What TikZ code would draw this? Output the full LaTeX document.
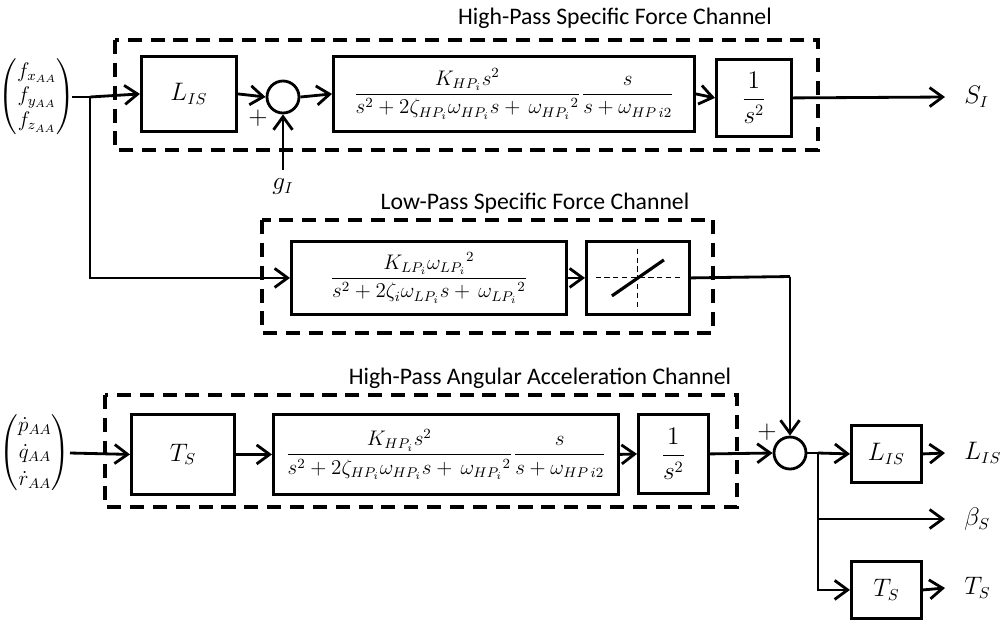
\documentclass[tikz,border=0pt]{standalone}
\usepackage{amsmath}
\usepackage{fontspec}
\setmainfont{Carlito}
\usetikzlibrary{arrows.meta,positioning}

\begin{document}
\fontsize{13.5}{16}\selectfont
\begin{tikzpicture}[
    x=0.2mm, y=-0.2mm,
    >={Straight Barb[length=2.6mm,width=3.8mm]},
    line width=1.6pt,
    block/.style={draw, line width=1.6pt, inner sep=0pt, anchor=north west},
    tfblock/.style={block, font=\fontsize{11.5}{14}\selectfont},
    sumnode/.style={draw, circle, line width=1.6pt, minimum size=6.4mm, inner sep=0pt},
    chbox/.style={draw, line width=1.8pt, dash pattern=on 8pt off 5pt},
    lbl/.style={inner sep=0pt, font=\fontsize{12}{14}\selectfont}
]
\useasboundingbox (0,0) rectangle (1000,628);

% --- 1. 虛線框與標題 ---
\draw[chbox] (115,40) rectangle (818,150);
\node at (615,18) {High-Pass Specific Force Channel};
\draw[chbox] (262,220) rectangle (713,333);
\node at (535,203) {Low-Pass Specific Force Channel};
\draw[chbox] (105,395) rectangle (737,507);
\node at (540,378) {High-Pass Angular Acceleration Channel};

% --- 2. 上方通道 ---
\node[lbl] (fin) at (37,97) {$\begin{pmatrix} f_{x_{AA}}\\ f_{y_{AA}}\\ f_{z_{AA}} \end{pmatrix}$};
\coordinate (fstart) at (72,97);
\coordinate (split) at (90,97);
\node[block, minimum width=95*0.2mm, minimum height=75*0.2mm] (lis1) at (140,55) {$L_{IS}$};
\node[sumnode] (sum1) at (283,97) {};
\node (gI) at (283,187) {$g_I$};
\coordinate (gIup) at (283,170);
\node at (258,118) {$+$};
\node[tfblock, minimum width=361*0.2mm, minimum height=75*0.2mm] (hp1) at (332,55)
    {$\dfrac{K_{HP_i}s^2}{s^2+2\zeta_{HP_i}\omega_{HP_i}s+\,{\omega_{HP_i}}^2}\dfrac{s}{s+\omega_{HP\,i2}}$};
\node[block, minimum width=75*0.2mm, minimum height=77*0.2mm] (int1) at (715,58) {$\dfrac{1}{s^2}$};
\coordinate (sout) at (945,97);
\node[anchor=west] (SI) at (955,97) {$S_I$};

\draw (fstart) -- (split);
\draw[->] (split) -- (lis1.west);
\draw[->] (lis1.east) -- (sum1.west);
\draw[->] (gIup) -- (sum1.south);
\draw[->] (sum1.east) -- (hp1.west);
\draw[->] (hp1.east) -- (int1.west);
\draw[->] (int1.east) -- (sout);

% --- 3. 低通通道 ---
\node[tfblock, minimum width=275*0.2mm, minimum height=73*0.2mm] (lp) at (290,240)
    {$\dfrac{K_{LP_i}{\omega_{LP_i}}^2}{s^2+2\zeta_i\omega_{LP_i}s+\,{\omega_{LP_i}}^2}$};
\node[block, minimum width=103*0.2mm, minimum height=73*0.2mm] (sat) at (585,240) {};
\draw[line width=0.6pt, densely dashed] ([xshift=6pt]sat.west) -- ([xshift=-6pt]sat.east);
\draw[line width=0.6pt, densely dashed] ([yshift=-5pt]sat.north) -- ([yshift=5pt]sat.south);
\draw[line width=1.8pt] ([shift={(-26,18)}]sat.center) -- ([shift={(26,-18)}]sat.center);
\coordinate (satcorner) at (790,276.5);

\draw[->] (split) |- (lp.west);
\draw[->] (lp.east) -- (sat.west);

% --- 4. 角加速度通道 ---
\node[lbl] (pin) at (35,453) {$\renewcommand{\arraystretch}{1.1}\begin{pmatrix} \dot p_{AA}\\ \dot q_{AA}\\ \dot r_{AA} \end{pmatrix}$};
\coordinate (pstart) at (70,453);
\node[block, minimum width=103*0.2mm, minimum height=80*0.2mm] (ts1) at (130,413) {$T_S$};
\node[tfblock, minimum width=345*0.2mm, minimum height=80*0.2mm] (hp2) at (272,413)
    {$\dfrac{K_{HP_i}s^2}{s^2+2\zeta_{HP_i}\omega_{HP_i}s+\,{\omega_{HP_i}}^2}\dfrac{s}{s+\omega_{HP\,i2}}$};
\node[block, minimum width=70*0.2mm, minimum height=79*0.2mm] (int2) at (637,413) {$\dfrac{1}{s^2}$};
\node[sumnode] (sum2) at (790,453) {};
\node at (767,432) {$+$};

\draw[->] (pstart) -- (ts1.west);
\draw[->] (ts1.east) -- (hp2.west);
\draw[->] (hp2.east) -- (int2.west);
\draw[->] (int2.east) -- (sum2.west);
\draw (sat.east) -- (satcorner);
\draw[->] (satcorner) -- (sum2.north);

% --- 5. 輸出 ---
\coordinate (split2) at (818,453);
\node[block, minimum width=70*0.2mm, minimum height=57*0.2mm] (lis2) at (850,424) {$L_{IS}$};
\node[block, minimum width=70*0.2mm, minimum height=57*0.2mm] (ts2) at (850,560) {$T_S$};
\coordinate (lout) at (945,453);
\coordinate (bout) at (945,519);
\coordinate (tout) at (945,588);
\node[anchor=west] (LIS) at (955,453) {$L_{IS}$};
\node[anchor=west] (beta) at (955,519) {$\beta_S$};
\node[anchor=west] (TS) at (955,588) {$T_S$};

\draw (sum2.east) -- (split2);
\draw[->] (split2) -- (lis2.west);
\draw[->] (lis2.east) -- (lout);
\draw[->] (split2) |- (bout);
\draw[->] (split2) |- (ts2.west);
\draw[->] (ts2.east) -- (tout);

\end{tikzpicture}
\end{document}
